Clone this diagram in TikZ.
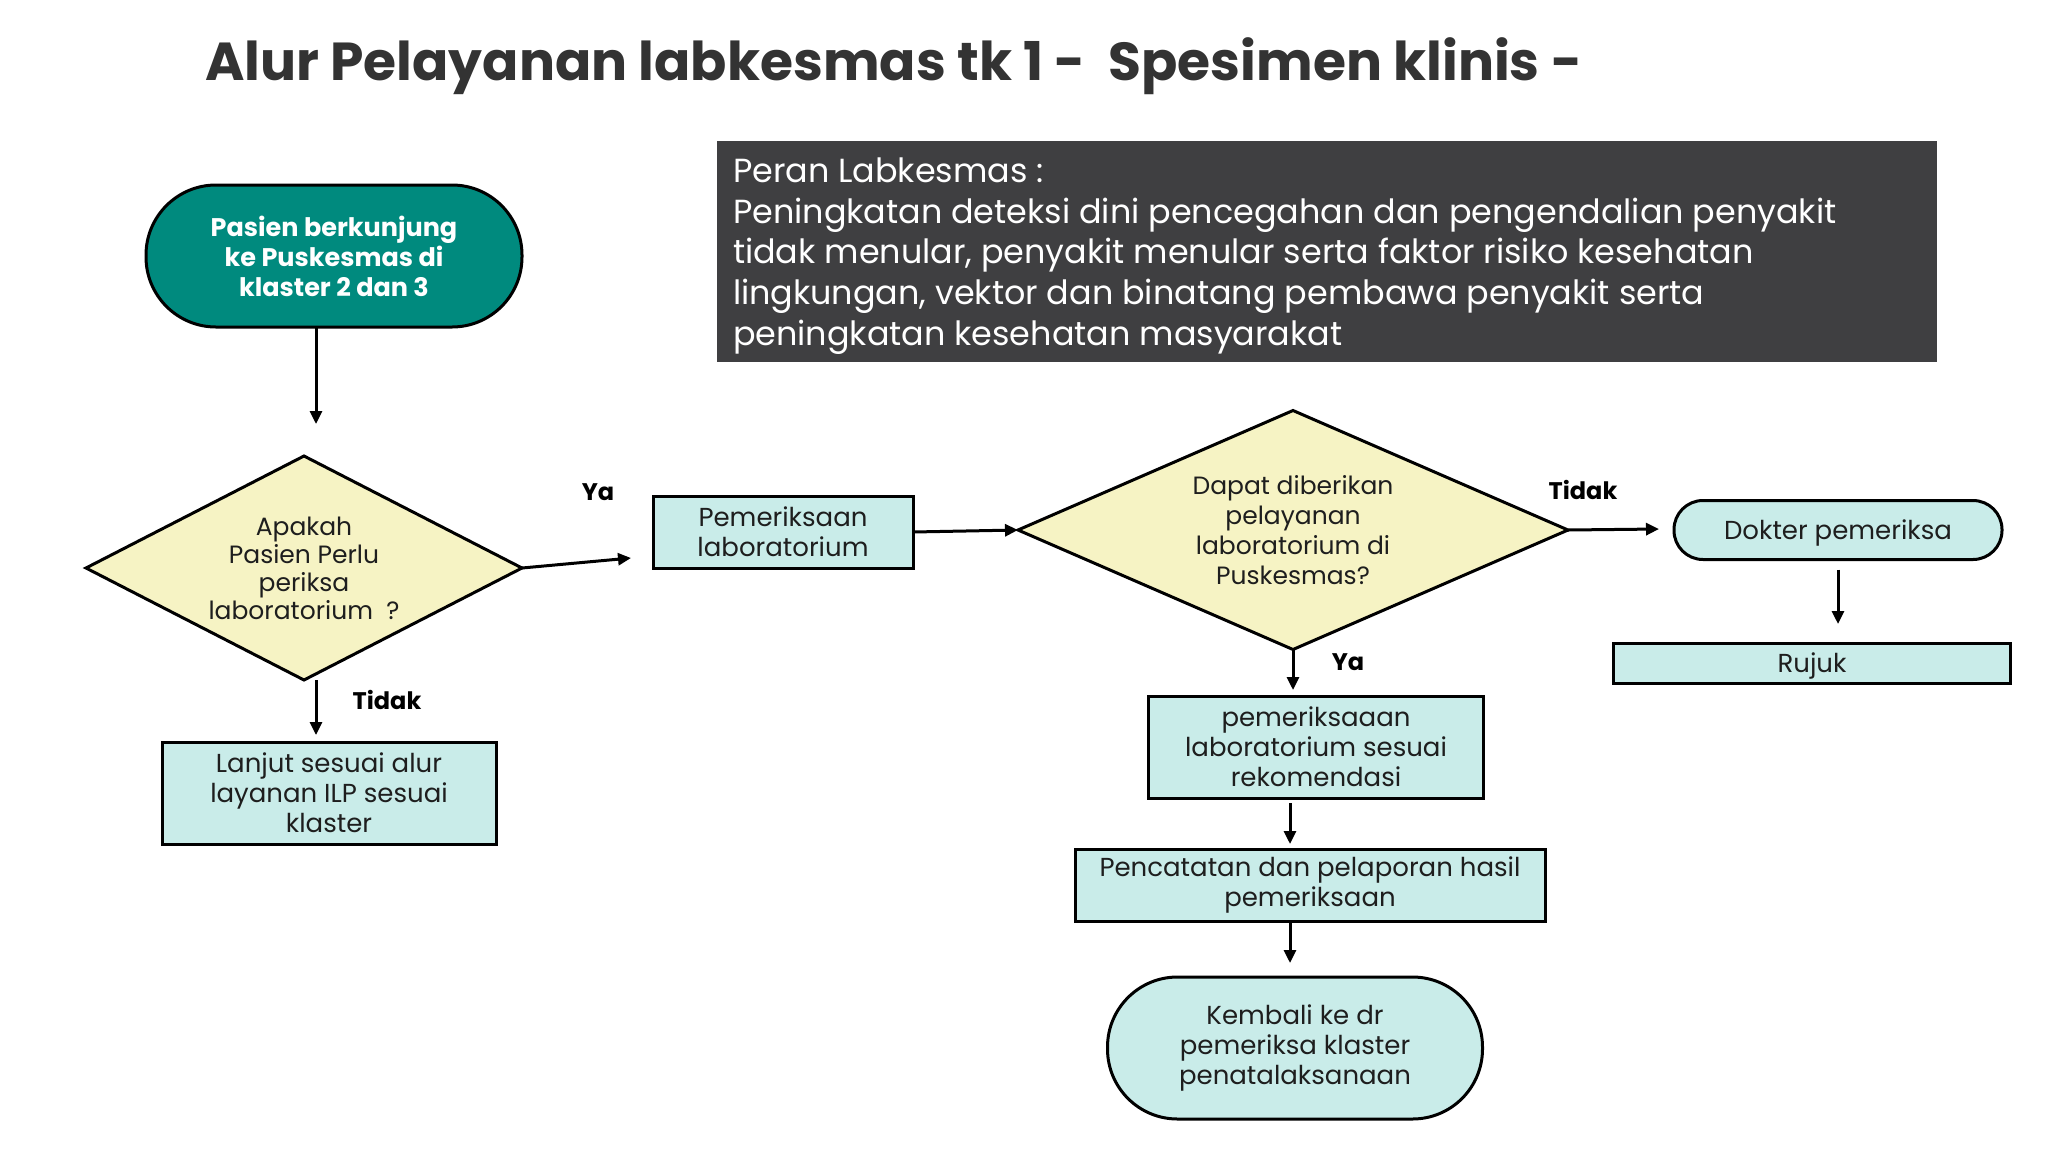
\documentclass[tikz,border=0pt]{standalone}
\usepackage{fontspec}
\setmainfont{Poppins}
\usetikzlibrary{shapes.geometric,arrows.meta,calc}
\definecolor{tealfill}{RGB}{0,138,126}
\definecolor{cyanfill}{RGB}{201,236,233}
\definecolor{yelfill}{RGB}{246,243,196}
\definecolor{darkfill}{RGB}{63,63,65}
\definecolor{txt}{RGB}{30,30,30}
\definecolor{titlec}{RGB}{51,51,51}
\newcommand{\fs}[2]{\fontsize{#1}{#2}\selectfont}
\begin{document}
\begin{tikzpicture}[x=1pt,y=-1pt,
  every node/.style={inner sep=0pt, outer sep=0pt},
  box/.style={draw=black, line width=3pt, fill=cyanfill, align=center, text=txt, font=\fs{26}{30}},
  lowered/.style={execute at begin node={\rule{0pt}{#1}}},
  term/.style={box, rounded corners=68pt},
  dec/.style={diamond, shape aspect=2, draw=black, line width=3pt, fill=yelfill, align=center, text=txt, font=\fs{25}{28}},
  lbl/.style={font=\bfseries\fs{24}{28}, text=black},
  arr/.style={line width=3pt, draw=black, -{Triangle[length=13pt,width=12pt]}}
]
\useasboundingbox (0,0) rectangle (2048,1152);
\fill[white] (0,0) rectangle (2048,1152);

% title
\node[anchor=west, font=\bfseries\fs{53.5}{60}, text=titlec] (title) at (205,66) {Alur Pelayanan labkesmas tk 1 -\ \ Spesimen klinis -};

% info box
\node[fill=darkfill, minimum width=1220pt, minimum height=221pt] (info) at (1327,251.5) {};
\node[anchor=west, align=left, text=white, font=\fs{33.4}{40.6}] (infotext) at (733,256)
{Peran Labkesmas :\\
Peningkatan deteksi dini pencegahan dan pengendalian penyakit\\
tidak menular, penyakit menular serta faktor risiko kesehatan\\
lingkungan, vektor dan binatang pembawa penyakit serta\\
peningkatan kesehatan masyarakat};

% nodes
\node[term, fill=tealfill, text=white, font=\bfseries\fs{25.5}{30}, minimum width=376pt, minimum height=142pt, rounded corners=70pt] (start) at (334,256)
{Pasien berkunjung\\ ke Puskesmas di\\ klaster 2 dan 3};
\node[dec, minimum width=436pt, minimum height=224pt] (d1) at (304,568)
{Apakah\\ Pasien Perlu\\ periksa\\ laboratorium\ \ ?};
\node[box, lowered=26pt, minimum width=260pt, minimum height=72pt] (pem) at (783,532)
{Pemeriksaan\\ laboratorium};
\node[dec, font=\fs{25}{30}, minimum width=550pt, minimum height=239pt] (d2) at (1293,530)
{Dapat diberikan\\ pelayanan\\ laboratorium di\\ Puskesmas?};
\node[term, lowered=25pt, minimum width=328pt, minimum height=59pt, rounded corners=29pt] (dok) at (1838,530)
{Dokter pemeriksa};
\node[box, lowered=26pt, minimum width=397pt, minimum height=40pt] (rujuk) at (1812,663) {Rujuk};
\node[box, lowered=23pt, minimum width=335pt, minimum height=102pt] (rek) at (1316,747)
{pemeriksaaan\\ laboratorium sesuai\\ rekomendasi};
\node[box, lowered=26pt, minimum width=470pt, minimum height=72pt] (pen) at (1310,885)
{Pencatatan\ dan pelaporan hasil\\ pemeriksaan};
\node[term, lowered=26pt, minimum width=375pt, minimum height=142pt, rounded corners=70pt] (kem) at (1295,1048)
{Kembali ke dr\\ pemeriksa klaster\\ penatalaksanaan};
\node[box, minimum width=334pt, minimum height=102pt] (lanjut) at (329,793)
{Lanjut sesuai alur\\ layanan ILP sesuai\\ klaster};

% free ends
\coordinate (c1) at (316,424);
\coordinate (c2) at (631,558);
\coordinate (c3) at (1659,529);
\coordinate (c4) at (1838,624);
\coordinate (c5) at (1293,690);
\coordinate (c6) at (1290,844);
\coordinate (c7) at (1290,963);
\coordinate (c8) at (316,735);

% connectors
\draw[arr] (start.south -| c1) -- (c1);
\draw[arr] (d1.east) -- (c2);
\draw[arr] (pem.east) -- (d2.west);
\draw[arr] (d2.east) -- (c3);
\draw[arr] ([yshift=-10pt]dok.south) -- (c4);
\draw[arr] (d2.south) -- (c5);
\draw[arr] ([yshift=-5pt]rek.south -| c6) -- (c6);
\draw[arr] (pen.south -| c7) -- (c7);
\draw[arr] (d1.south -| c8) -- (c8);

% labels
\node[lbl] (ya1) at (598,492) {Ya};
\node[lbl] (tidak2) at (1583,490) {Tidak};
\node[lbl] (ya2) at (1348,662) {Ya};
\node[lbl] (tidak1) at (387,700) {Tidak};
\end{tikzpicture}
\end{document}
